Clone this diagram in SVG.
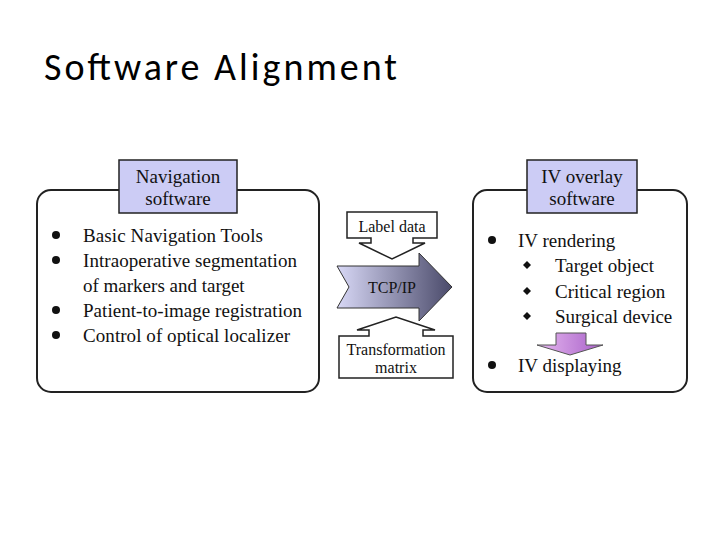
<svg xmlns="http://www.w3.org/2000/svg" width="720" height="540" viewBox="0 0 720 540">
<defs>
<style>
.t{font-family:"Liberation Serif",serif;font-size:19px;fill:#111}
.s{font-size:16px}
.b{fill:#fff;stroke:#222;stroke-width:2}
.h{fill:#ccccf5;stroke:#222;stroke-width:1.5}
</style>
<linearGradient id="g" x1="0" x2="1"><stop offset="0" stop-color="#d8d8f6"/><stop offset="1" stop-color="#4a4a6a"/></linearGradient>
<linearGradient id="p" x1="0" x2="1"><stop offset="0" stop-color="#e6b8f0"/><stop offset="1" stop-color="#a860c8"/></linearGradient>
</defs>
<rect width="720" height="540" fill="#fff"/>
<text x="44" y="80" textLength="353" style="font-family:Calibri,'Carlito','Liberation Sans',sans-serif;font-size:38px;fill:#000">Software Alignment</text>
<g id="nav">
<rect class="b" x="37" y="190" width="282" height="202" rx="14"/>
<rect class="h" x="119" y="160" width="118" height="53"/>
<text class="t" x="178" y="183" text-anchor="middle">Navigation</text>
<text class="t" x="178" y="205" text-anchor="middle">software</text>
<g fill="#111"><circle cx="56" cy="235" r="4"/><circle cx="56" cy="260" r="4"/><circle cx="56" cy="310" r="4"/><circle cx="56" cy="335" r="4"/></g>
<text class="t" x="83" y="242" textLength="180">Basic Navigation Tools</text>
<text class="t" x="83" y="267" textLength="214">Intraoperative segmentation</text>
<text class="t" x="83" y="292">of markers and target</text>
<text class="t" x="83" y="317" textLength="219">Patient-to-image registration</text>
<text class="t" x="83" y="342" textLength="207">Control of optical localizer</text>
</g>
<g id="iv">
<rect class="b" x="473" y="190" width="214" height="202" rx="14"/>
<rect class="h" x="527" y="160" width="110" height="53"/>
<text class="t" x="582" y="183" text-anchor="middle">IV overlay</text>
<text class="t" x="582" y="205" text-anchor="middle">software</text>
<g fill="#111"><circle cx="492" cy="240" r="4"/><circle cx="492" cy="365" r="4"/>
<path d="M527 261l4 4-4 4-4-4zM527 287l4 4-4 4-4-4zM527 312l4 4-4 4-4-4z"/></g>
<text class="t" x="518" y="247">IV rendering</text>
<text class="t" x="555" y="272">Target object</text>
<text class="t" x="555" y="298">Critical region</text>
<text class="t" x="555" y="323">Surgical device</text>
<text class="t" x="518" y="372">IV displaying</text>
<path d="M556 333h30v12h17l-33 10-33-10h19z" fill="url(#p)" stroke="#555"/>
</g>
<g id="label">
<path class="b" style="stroke-width:1.5" d="M347 212H437V238H413V243H425L392 259L359 243H371V238H347Z"/>
<text class="t s" x="392" y="232" text-anchor="middle">Label data</text>
</g>
<g id="tcp">
<path d="M337 266h82v-13l33 34-33 34v-13h-82l12-21z" fill="url(#g)" stroke="#333"/>
<text class="t s" x="392" y="293" text-anchor="middle">TCP/IP</text>
</g>
<g id="tm">
<path class="b" style="stroke-width:1.5" d="M339 336H369V330H357L396 317L435 330H423V336H453V378H339Z"/>
<text class="t s" x="396" y="355" text-anchor="middle">Transformation</text>
<text class="t s" x="396" y="373" text-anchor="middle">matrix</text>
</g>
<g id="connectors"/>
</svg>
